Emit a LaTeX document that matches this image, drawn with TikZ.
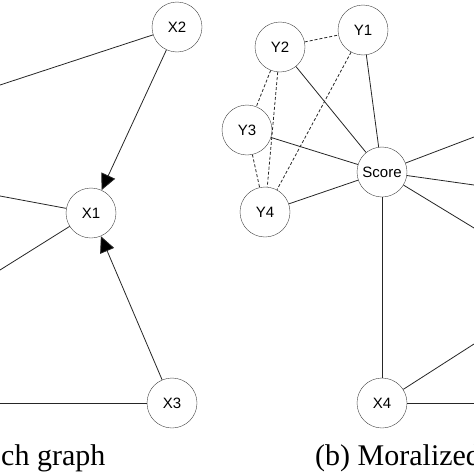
\documentclass[tikz,border=0pt]{standalone}
\usepackage{fontspec}
\setmainfont{Liberation Serif}
\newfontfamily\varfont{Liberation Sans}
\usetikzlibrary{arrows.meta}

\begin{document}
\begin{tikzpicture}
    [x=1pt,y=-1pt,
    every node/.style={circle,draw=black!75,minimum size=50pt,inner sep=0pt,font=\varfont\fontsize{15}{15}\selectfont},
    edge/.style={draw=black!85,line width=0.8pt},
    moral/.style={draw=black!85,line width=0.8pt,dash pattern=on 3pt off 2pt},
    caption/.style={rectangle,draw=none,minimum size=0pt,inner sep=0pt,font=\rmfamily\fontsize{30}{30}\selectfont}]
      \useasboundingbox (0,0) rectangle (474,474);
      \clip (0,0) rectangle (474,474);
      % search graph
      \node (x2) at (177,27) {X2};
      \node (x1) at (91,213) {X1};
      \node (x3) at (172,403) {X3};
      \coordinate (a1) at (0,85);
      \coordinate (a2) at (0,196);
      \coordinate (a3) at (0,270);
      \coordinate (a4) at (0,403);
      \draw[edge] (x2) -- (a1);
      \draw[edge] (x1) -- (a2);
      \draw[edge] (x1) -- (a3);
      \draw[edge] (x3) -- (a4);
      \draw[edge,-{Triangle[length=16pt,width=15pt,fill=black]}] (x2) -- (x1);
      \draw[edge,-{Triangle[length=16pt,width=15pt,fill=black]}] (x3) -- (x1);
      % moralized graph
      \node (y2) at (280,47) {Y2};
      \node (y1) at (363,30) {Y1};
      \node (y3) at (247,130) {Y3};
      \node (y4) at (265,212) {Y4};
      \node (score) at (382,172) {Score};
      \node (x4) at (382,403) {X4};
      \coordinate (b1) at (474,137);
      \coordinate (b2) at (474,185);
      \coordinate (b3) at (474,228);
      \coordinate (b4) at (474,344);
      \coordinate (b5) at (474,403);
      \draw[moral] (y2) -- (y1);
      \draw[moral] (y2) -- (y3);
      \draw[moral] (y2) -- (y4);
      \draw[moral] (y1) -- (y4);
      \draw[moral] (y3) -- (y4);
      \draw[edge] (y2) -- (score);
      \draw[edge] (y1) -- (score);
      \draw[edge] (y3) -- (score);
      \draw[edge] (y4) -- (score);
      \draw[edge] (score) -- (x4);
      \draw[edge] (score) -- (b1);
      \draw[edge] (score) -- (b2);
      \draw[edge] (score) -- (b3);
      \draw[edge] (x4) -- (b4);
      \draw[edge] (x4) -- (b5);
      \node[caption,anchor=base west] (capa) at (1,465) {ch graph};
      \node[caption,anchor=base west] (capb) at (315,465) {(b) Moralized};
\end{tikzpicture}
\end{document}
